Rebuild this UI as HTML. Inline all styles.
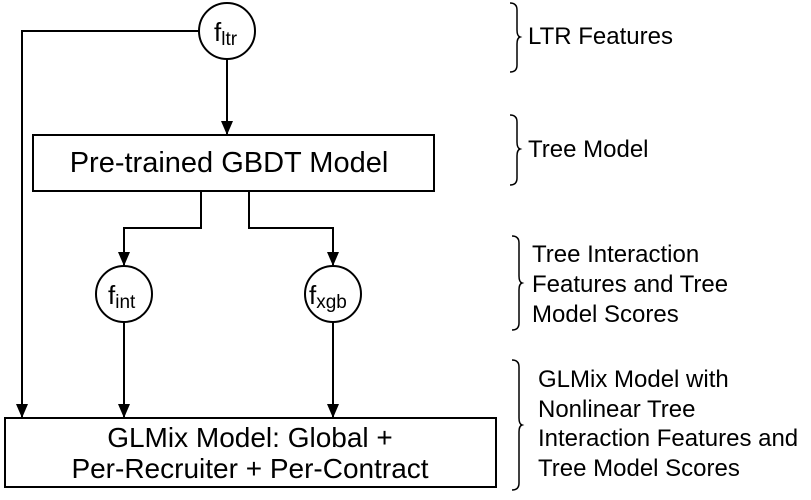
<!DOCTYPE html>
<html><head><style>body{margin:0;background:#fff}</style></head><body>
<svg width="811" height="495" xmlns="http://www.w3.org/2000/svg" font-family="Liberation Sans, sans-serif" fill="#000">
<defs><marker id="a" markerWidth="12" markerHeight="14" refX="13" refY="6" orient="auto" markerUnits="userSpaceOnUse"><path d="M0,0 L14,6 L0,12 z"/></marker></defs>
<g stroke="#000" stroke-width="2" fill="none">
<circle cx="227" cy="31" r="28"/>
<path d="M199,31 H22 V417" marker-end="url(#a)"/>
<path d="M227,59 V134" marker-end="url(#a)"/>
<rect x="33" y="135" width="401" height="56"/>
<path d="M201,191 V228 H124 V265" marker-end="url(#a)"/>
<path d="M249,191 V228 H333 V265" marker-end="url(#a)"/>
<circle cx="124" cy="294" r="28"/>
<circle cx="333" cy="294" r="28"/>
<path d="M124,322 V417" marker-end="url(#a)"/>
<path d="M333,322 V417" marker-end="url(#a)"/>
<rect x="5" y="418" width="491" height="69"/>
<g stroke-width="1.5">
<path d="M510,3 Q517,3 517,10 V30 Q517,36 520,37 Q517,38 517,44 V65 Q517,72 510,72"/>
<path d="M510,115 Q517,115 517,122 V142 Q517,148 520,149 Q517,150 517,156 V178 Q517,185 510,185"/>
<path d="M512,236 Q519,236 519,243 V276 Q519,282 522,283 Q519,284 519,290 V323 Q519,330 512,330"/>
<path d="M512,360 Q519,360 519,367 V418 Q519,424 522,425 Q519,426 519,432 V483 Q519,490 512,490"/>
</g>
</g>
<text x="214" y="41" font-size="26">f<tspan font-size="19" dy="4">ltr</tspan></text>
<text x="108" y="304" font-size="26">f<tspan font-size="19" dy="4">int</tspan></text>
<text x="309" y="304" font-size="26">f<tspan font-size="19" dy="4">xgb</tspan></text>
<text x="229" y="172" font-size="29" text-anchor="middle">Pre-trained GBDT Model</text>
<text x="250" y="447" font-size="28" text-anchor="middle">GLMix Model: Global +</text>
<text x="250" y="478" font-size="28" text-anchor="middle">Per-Recruiter + Per-Contract</text>
<g font-size="24">
<text x="528" y="44">LTR Features</text>
<text x="528" y="157">Tree Model</text>
<text x="532" y="262">Tree Interaction</text>
<text x="532" y="292">Features and Tree</text>
<text x="532" y="322">Model Scores</text>
<text x="538" y="387">GLMix Model with</text>
<text x="538" y="417">Nonlinear Tree</text>
<text x="538" y="446">Interaction Features and</text>
<text x="538" y="476">Tree Model Scores</text>
</g>
</svg>
</body></html>
